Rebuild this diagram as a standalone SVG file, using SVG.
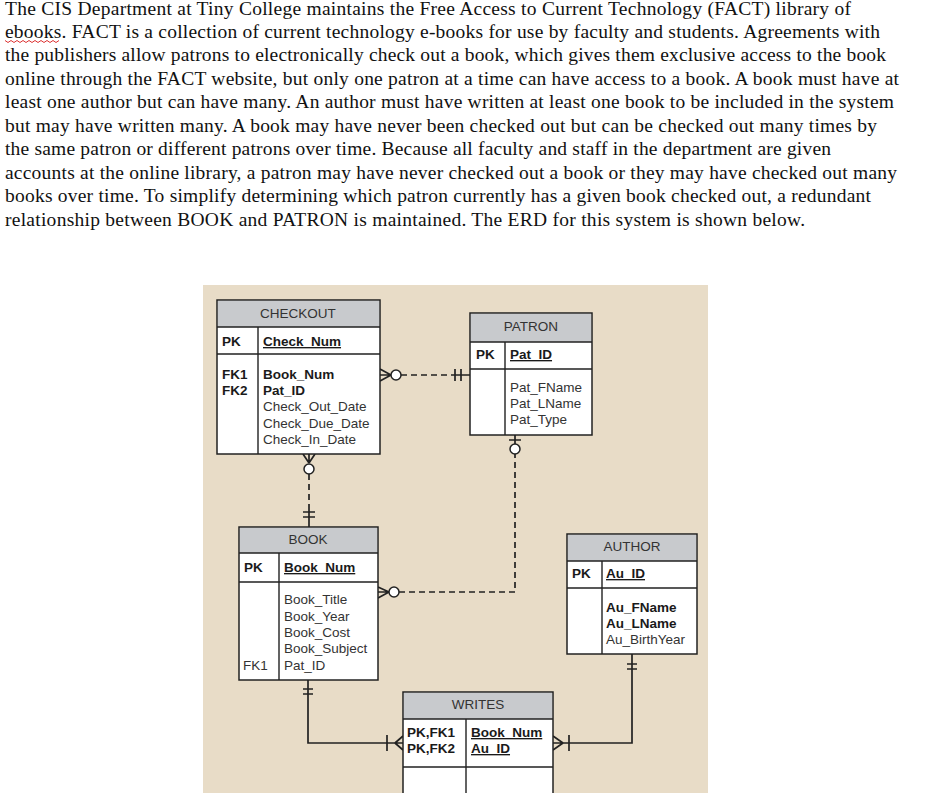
<svg xmlns="http://www.w3.org/2000/svg" width="933" height="793" viewBox="0 0 933 793">
<style>
.para{font-family:"Liberation Serif","Times New Roman",serif;font-size:19.5px;fill:#111}
.t{font-family:"Liberation Sans",Arial,sans-serif;font-size:13.5px;fill:#333}
.b{font-weight:bold;fill:#1a1a1a}
.u{text-decoration:underline}
.hd{fill:#c8cacd;stroke:none}
.box{fill:#fff;stroke:#222;stroke-width:1.5}
.ln{stroke:#222;stroke-width:1.4;fill:none}
.dash{stroke:#222;stroke-width:1.7;fill:none;stroke-dasharray:6,4}
.sol{stroke:#222;stroke-width:1.7;fill:none}
.circ{fill:#fff;stroke:#222;stroke-width:1.5}
</style>
<rect width="933" height="793" fill="#fff"/>
<g id="paragraph">
<text class="para" x="5" y="14.5" textLength="846" lengthAdjust="spacing">The CIS Department at Tiny College maintains the Free Access to Current Technology (FACT) library of</text>
<text class="para" x="5" y="37.5" textLength="875" lengthAdjust="spacing">ebooks. FACT is a collection of current technology e-books for use by faculty and students. Agreements with</text>
<text class="para" x="5" y="61" textLength="881" lengthAdjust="spacing">the publishers allow patrons to electronically check out a book, which gives them exclusive access to the book</text>
<text class="para" x="5" y="84.5" textLength="894" lengthAdjust="spacing">online through the FACT website, but only one patron at a time can have access to a book. A book must have at</text>
<text class="para" x="5" y="108" textLength="889" lengthAdjust="spacing">least one author but can have many. An author must have written at least one book to be included in the system</text>
<text class="para" x="5" y="131.5" textLength="872" lengthAdjust="spacing">but may have written many. A book may have never been checked out but can be checked out many times by</text>
<text class="para" x="5" y="155" textLength="826" lengthAdjust="spacing">the same patron or different patrons over time. Because all faculty and staff in the department are given</text>
<text class="para" x="5" y="178.5" textLength="892" lengthAdjust="spacing">accounts at the online library, a patron may have never checked out a book or they may have checked out many</text>
<text class="para" x="5" y="202" textLength="866" lengthAdjust="spacing">books over time. To simplify determining which patron currently has a given book checked out, a redundant</text>
<text class="para" x="5" y="225.5" textLength="800" lengthAdjust="spacing">relationship between BOOK and PATRON is maintained. The ERD for this system is shown below.</text>
<path d="M5,40.5 l3,2 l3,-2 l3,2 l3,-2 l3,2 l3,-2 l3,2 l3,-2 l3,2 l3,-2 l3,2 l3,-2 l3,2 l3,-2 l3,2 l3,-2 l3,2 l3,-2" fill="none" stroke="#d33" stroke-width="1"/>
</g>
<rect id="background" x="203" y="285" width="505" height="508" fill="#e8dcc7"/>
<g id="connectors">
<!-- CHECKOUT - PATRON -->
<path class="sol" d="M380,369 L391,375 M380,375 L391,375 M380,381 L391,375"/>
<circle class="circ" cx="396" cy="375" r="5"/>
<path class="dash" d="M401,375 H452"/>
<path class="sol" d="M452,375 H470 M455,369 V381 M461,369 V381"/>
<!-- CHECKOUT - BOOK -->
<path class="sol" d="M303,454 L309,463 M309,454 L309,463 M315,454 L309,463"/>
<circle class="circ" cx="309" cy="469" r="5"/>
<path class="dash" d="M309,474 V509"/>
<path class="sol" d="M309,509 V527 M303,512 H315 M303,517 H315"/>
<!-- BOOK - PATRON -->
<path class="sol" d="M378,587 L389,592 M378,592 L389,592 M378,598 L389,592"/>
<circle class="circ" cx="394" cy="592" r="5"/>
<path class="dash" d="M399,592 H515 V454"/>
<circle class="circ" cx="515" cy="449" r="5"/>
<path class="sol" d="M515,444 V435 M509,440 H521"/>
<!-- BOOK - WRITES -->
<path class="sol" d="M308,680 V743 H403 M303,689 H313 M303,694 H313 M387,735 V751 M395,743 L403,736 M395,743 L403,743 M395,743 L403,750"/>
<!-- AUTHOR - WRITES -->
<path class="sol" d="M632,654 V743 H553 M627,664 H637 M627,669 H637 M569,735 V751 M563,743 L553,736 M563,743 L553,743 M563,743 L553,750"/>
</g>
<g id="checkout">
<rect class="box" x="217" y="300" width="163" height="154"/>
<rect class="hd" x="218" y="301" width="161" height="26"/>
<path class="ln" d="M217,327 H380 M217,354 H380 M258,327 V454"/>
<text class="t" x="298" y="318" text-anchor="middle">CHECKOUT</text>
<text class="t b" x="222" y="346">PK</text>
<text class="t b u" x="263" y="346">Check_Num</text>
<text class="t b" x="222" y="379">FK1</text>
<text class="t b" x="222" y="395">FK2</text>
<text class="t b" x="263" y="379">Book_Num</text>
<text class="t b" x="263" y="395">Pat_ID</text>
<text class="t" x="263" y="411">Check_Out_Date</text>
<text class="t" x="263" y="428">Check_Due_Date</text>
<text class="t" x="263" y="444">Check_In_Date</text>
</g>
<g id="patron">
<rect class="box" x="470" y="313" width="122" height="122"/>
<rect class="hd" x="471" y="314" width="120" height="28"/>
<path class="ln" d="M470,342 H592 M470,369 H592 M505,342 V435"/>
<text class="t" x="531" y="331" text-anchor="middle">PATRON</text>
<text class="t b" x="476" y="359">PK</text>
<text class="t b u" x="510" y="359">Pat_ID</text>
<text class="t" x="510" y="392">Pat_FName</text>
<text class="t" x="510" y="408">Pat_LName</text>
<text class="t" x="510" y="424">Pat_Type</text>
</g>
<g id="book">
<rect class="box" x="239" y="527" width="139" height="153"/>
<rect class="hd" x="240" y="528" width="137" height="25"/>
<path class="ln" d="M239,553 H378 M239,582 H378 M279,553 V680"/>
<text class="t" x="308" y="544" text-anchor="middle">BOOK</text>
<text class="t b" x="244" y="572">PK</text>
<text class="t b u" x="284" y="572">Book_Num</text>
<text class="t" x="284" y="604">Book_Title</text>
<text class="t" x="284" y="621">Book_Year</text>
<text class="t" x="284" y="637">Book_Cost</text>
<text class="t" x="284" y="653">Book_Subject</text>
<text class="t" x="243" y="670">FK1</text>
<text class="t" x="284" y="670">Pat_ID</text>
</g>
<g id="author">
<rect class="box" x="567" y="534" width="130" height="120"/>
<rect class="hd" x="568" y="535" width="128" height="26"/>
<path class="ln" d="M567,561 H697 M567,588 H697 M602,561 V654"/>
<text class="t" x="632" y="551" text-anchor="middle">AUTHOR</text>
<text class="t b" x="572" y="578">PK</text>
<text class="t b u" x="606" y="578">Au_ID</text>
<text class="t b" x="606" y="612">Au_FName</text>
<text class="t b" x="606" y="628">Au_LName</text>
<text class="t" x="606" y="644">Au_BirthYear</text>
</g>
<g id="writes">
<rect class="box" x="403" y="692" width="150" height="110"/>
<rect class="hd" x="404" y="693" width="148" height="26"/>
<path class="ln" d="M403,719 H553 M403,767 H553 M466,719 V802"/>
<text class="t" x="478" y="709" text-anchor="middle">WRITES</text>
<text class="t b" x="407" y="737">PK,FK1</text>
<text class="t b" x="407" y="753">PK,FK2</text>
<text class="t b u" x="471" y="737">Book_Num</text>
<text class="t b u" x="471" y="753">Au_ID</text>
</g>
</svg>
